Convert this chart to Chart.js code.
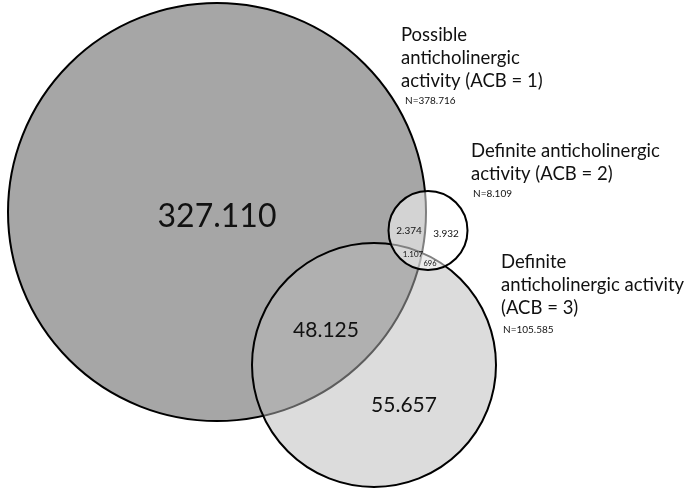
<!DOCTYPE html>
<html>
<head>
<meta charset="utf-8">
<script src="https://cdn.jsdelivr.net/npm/chart.js@4.4.1/dist/chart.umd.min.js"></script>
<style>
  html, body { margin: 0; padding: 0; background: #fff; }
  canvas { display: block; }
</style>
</head>
<body>
<canvas id="venn" width="685" height="489"></canvas>
<script>
// sets of the Venn diagram (ACB score groups)
var setNames = ['Possible anticholinergic activity (ACB = 1)',
                'Definite anticholinergic activity (ACB = 3)',
                'Definite anticholinergic activity (ACB = 2)'];
var setTotals = ['N=378.716', 'N=105.585', 'N=8.109'];

// counts in each region of the diagram
var regionCounts = ['327.110', '48.125', '55.657', '2.374', '3.932', '1.107', '696'];

// circle layout, in the hidden axis units
var circleX = [217, 374, 428];
var circleY = [212, 365, 230.5];
var circleR = [209, 122, 39.5];

// where the region counts and set labels sit
var regionLayout = [
    {x: 217, y: 217, size: 32},
    {x: 326, y: 330, size: 21},
    {x: 404, y: 405, size: 21},
    {x: 409, y: 231, size: 10},
    {x: 446, y: 234, size: 10},
    {x: 413, y: 254, size: 8},
    {x: 430, y: 264, size: 7.5}
];
var setLabelLayout = [
    {x: 401, lines: ['Possible', 'anticholinergic', 'activity (ACB = 1)'], y: [41, 64, 87], nx: 405, ny: 104},
    {x: 501, lines: ['Definite', 'anticholinergic activity', '(ACB = 3)'], y: [268, 291, 314], nx: 503, ny: 333},
    {x: 471, lines: ['Definite anticholinergic', 'activity (ACB = 2)'], y: [157, 180], nx: 473, ny: 197}
];

var fills = ['#a6a6a6', 'rgba(186, 186, 186, 0.5)', 'rgba(255, 255, 255, 0.5)'];
var FONT = 'Lato, "Open Sans", sans-serif';

// bubble radii are pixels, so turn the layout radii into pixels through the x scale
var radiusFromScale = {
    id: 'radiusFromScale',
    beforeDatasetsUpdate: function (chart) {
        var s = chart.scales.x;
        chart.data.datasets.forEach(function (d, i) {
            var meta = chart.getDatasetMeta(i);
            if (meta._parsed[0]) {
                meta._parsed[0]._custom = Math.abs(s.getPixelForValue(circleR[i]) - s.getPixelForValue(0));
            }
        });
    }
};

var vennLabels = {
    id: 'vennLabels',
    afterDatasetsDraw: function (chart) {
        var c = chart.ctx, sx = chart.scales.x, sy = chart.scales.y;
        c.save();
        c.fillStyle = '#111';
        c.textAlign = 'center';
        c.textBaseline = 'middle';
        regionCounts.forEach(function (txt, i) {
            var p = regionLayout[i];
            c.font = p.size + 'px ' + FONT;
            c.fillText(txt, sx.getPixelForValue(p.x), sy.getPixelForValue(p.y));
        });
        c.textAlign = 'left';
        c.textBaseline = 'alphabetic';
        setLabelLayout.forEach(function (l, i) {
            c.font = '18.5px ' + FONT;
            l.lines.forEach(function (line, j) {
                c.fillText(line, sx.getPixelForValue(l.x), sy.getPixelForValue(l.y[j]));
            });
            c.font = '10px ' + FONT;
            c.fillText(setTotals[i], sx.getPixelForValue(l.nx), sy.getPixelForValue(l.ny));
        });
        c.restore();
    }
};

var datasets = setNames.map(function (name, i) {
    return {
        label: name,
        data: [{x: circleX[i], y: circleY[i], r: circleR[i]}],
        backgroundColor: fills[i],
        borderColor: '#000',
        borderWidth: 2,
        order: 3 - i,
        clip: false
    };
});

new Chart(document.getElementById('venn'), {
    type: 'bubble',
    data: {datasets: datasets},
    options: {
        responsive: false,
        animation: false,
        events: [],
        layout: {padding: 0, autoPadding: false},
        plugins: {legend: {display: false}, tooltip: {enabled: false}},
        scales: {
            x: {type: 'linear', min: 0, max: 685, display: false},
            y: {type: 'linear', min: 0, max: 489, reverse: true, display: false}
        }
    },
    plugins: [radiusFromScale, vennLabels]
});
</script>
</body>
</html>
